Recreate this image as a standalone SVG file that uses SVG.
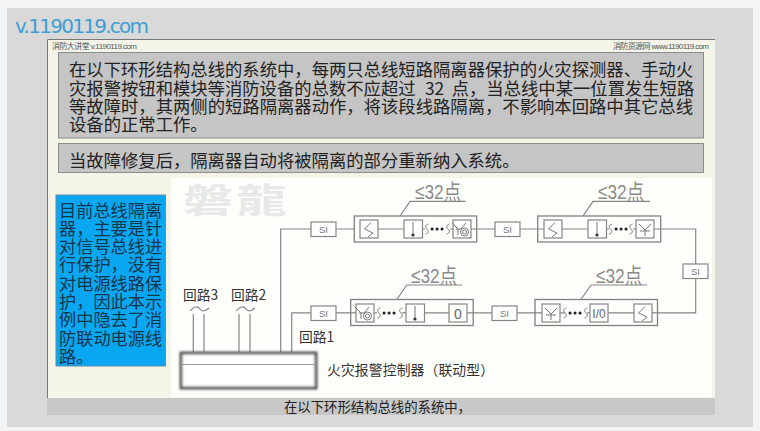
<svg xmlns="http://www.w3.org/2000/svg" width="760" height="431" viewBox="0 0 760 431">
<style>
text{font-family:"Noto Sans CJK SC","Liberation Sans",sans-serif;fill:#222}
.main{font-size:17.33px}
.lab{font-size:13.8px;fill:#333}
.side{font-size:17.2px;fill:#16364a}
.tiny{font-size:8px;fill:#555;font-family:"Liberation Sans","Noto Sans CJK SC",sans-serif}
.w{fill:none;stroke:#858585;stroke-width:1.2}
.box{fill:#fff;stroke:#858585;stroke-width:1.2}
.outer{fill:none;stroke:#808080;stroke-width:1.3}
.sym{fill:none;stroke:#777;stroke-width:1}
.si{font-size:9.5px;fill:#777;text-anchor:middle;font-family:"Liberation Sans",sans-serif}
.lim{font-size:21px;fill:#8a8a8a;font-family:"Liberation Sans","Noto Sans CJK SC",sans-serif}
.panel{fill:#c5c5c5;stroke:#8c8c8c;stroke-width:1}
</style>
<defs>
<filter id="blur" x="-10%" y="-30%" width="120%" height="160%"><feGaussianBlur stdDeviation="1.1"/></filter>
<g id="k-s"><rect class="box" width="18" height="18"/><path class="sym" d="M11 2.500 4.500 9 13 13 8 17"/></g>
<g id="k-det"><rect class="box" width="18.500" height="18"/><path class="sym" d="M9 2V15"/><circle cx="9" cy="15" r="1.600" fill="#333"/></g>
<g id="k-y"><rect class="box" width="18" height="18"/><path class="sym" d="M3 4 9 10 15 4M9 10V16M4 11H14"/></g>
<g id="k-alarm"><rect class="box" width="18" height="18"/><path class="sym" d="M-1 3 5 9M5 9V15M3 9H8L13 3"/><circle class="sym" cx="11.500" cy="12" r="4"/><circle class="sym" cx="11.500" cy="12" r="2"/></g>
<g id="k-si"><rect class="box" width="25" height="14.500"/><text class="si" x="12.500" y="10.700">SI</text></g>
<g id="k-dots"><path class="sym" d="M1.500-5C-2-4-2-2 0 0S2 4-1.500 5"/></g>
</defs>
<rect width="760" height="431" fill="#f3f4f6"/>
<rect x="7" y="8" width="746" height="419" fill="#d9d9d9"/>
<rect x="47" y="39.500" width="668" height="375" fill="#f4f4e8"/>
<path d="M47.500 414V39.500H715" fill="none" stroke="#777" stroke-width="1"/>
<text x="15" y="33" font-size="20" textLength="134" style="fill:#3c9fd4;font-family:'DejaVu Sans',sans-serif">v.1190119.com</text>
<text class="tiny" x="52" y="49" textLength="85">消防大讲堂 v.1190119.com</text>
<text class="tiny" x="613" y="49" textLength="96">消防资源网 www.1190119.com</text>

<g id="panel-1">
<rect class="panel" x="58.500" y="52.500" width="645" height="85.500"/>
<text class="main" x="69" y="76" textLength="624">在以下环形结构总线的系统中，每两只总线短路隔离器保护的火灾探测器、手动火</text>
<text class="main" y="94.500"><tspan x="69">灾报警按钮和模块等消防设备的总数不应超过</tspan><tspan x="425">32</tspan><tspan x="451.700">点，当总线中某一位置发生短路</tspan></text>
<text class="main" x="69" y="112.500" textLength="624">等故障时，其两侧的短路隔离器动作，将该段线路隔离，不影响本回路中其它总线</text>
<text class="main" x="69" y="131">设备的正常工作。</text>
</g>
<g id="panel-2">
<rect class="panel" x="58.500" y="143.500" width="645" height="29"/>
<text class="main" x="69" y="167">当故障修复后，隔离器自动将被隔离的部分重新纳入系统。</text>
</g>

<rect x="171" y="178" width="541" height="219" fill="#fefefb"/>
<text transform="translate(183 213) scale(1.25 .85)" font-size="40" font-weight="700" letter-spacing="3" style="fill:#e8e8e8;font-family:'Noto Sans CJK TC',sans-serif">磐龍</text>

<g id="note">
<rect x="56" y="195" width="109.500" height="171" fill="#09a6f2" stroke="#5a8fb0" stroke-width="1"/>
<text class="side" x="59" y="216.500">目前总线隔离</text>
<text class="side" x="59" y="235">器，主要是针</text>
<text class="side" x="59" y="253">对信号总线进</text>
<text class="side" x="59" y="271">行保护，没有</text>
<text class="side" x="59" y="289.500">对电源线路保</text>
<text class="side" x="59" y="308">护，因此本示</text>
<text class="side" x="59" y="326">例中隐去了消</text>
<text class="side" x="59" y="344.500">防联动电源线</text>
<text class="side" x="59" y="362.500">路。</text>
</g>

<g id="connectors">
<path class="w" d="M280.700 352V229H311M291.700 352V312.800H311"/>
<path class="w" d="M336 229H354M360 229H404M422 229H425M450 229H453M471 229H495M520 229H544M562 229H588M606 229H609M633 229H636M654 229H695.700V264M695.700 278V312.800H652M634 312.800H608M590 312.800H587M565 312.800H559M542 312.800H517M492 312.800H467M449 312.800H424M406 312.800H402M377 312.800H374M356 312.800H336"/>
<path class="w" d="M193.300 352V314M204 352V314M239 352V314M250 352V314"/>
<path class="w" d="M190 311C194 306 198 306 200 309S206 311 209 308M236 311C240 306 244 306 246 309S252 311 255 308"/>
<path class="w" d="M400 216 410 201.300H465.700M396.500 300 406.700 285H462M583 216 593 201.300H650M580.500 300 591 285H647"/>
</g>

<g id="segment-top-1">
<rect class="outer" x="354.300" y="216" width="122.400" height="26"/>
<use href="#k-s" x="360" y="220"/><use href="#k-det" x="404" y="220"/><use href="#k-alarm" x="453" y="220"/>
<use href="#k-dots" x="427" y="229"/><use href="#k-dots" x="448" y="229"/>
<path d="M432 229h.1M437 229h.1M442 229h.1" stroke="#222" stroke-width="3" stroke-linecap="round"/>
<text class="lim" x="415" y="199" textLength="46" lengthAdjust="spacingAndGlyphs">≤32点</text>
</g>
<g id="segment-top-2">
<rect class="outer" x="537.700" y="216" width="123" height="26"/>
<use href="#k-s" x="544" y="220"/><use href="#k-det" x="588" y="220"/><use href="#k-y" x="636" y="220"/>
<use href="#k-dots" x="610.500" y="229"/><use href="#k-dots" x="631" y="229"/>
<path d="M616 229h.1M621 229h.1M626 229h.1" stroke="#222" stroke-width="3" stroke-linecap="round"/>
<text class="lim" x="598" y="199" textLength="46" lengthAdjust="spacingAndGlyphs">≤32点</text>
</g>
<g id="segment-bottom-1">
<rect class="outer" x="350.700" y="299.500" width="122.500" height="26"/>
<use href="#k-alarm" x="356" y="304"/><use href="#k-det" x="406" y="304"/><rect class="box" x="449" y="304" width="18" height="18"/>
<text x="458" y="318.500" text-anchor="middle" font-size="14" style="fill:#666;font-family:'Liberation Sans',sans-serif">0</text>
<use href="#k-dots" x="379" y="313"/><use href="#k-dots" x="401" y="313"/>
<path d="M384 313h.1M389 313h.1M394 313h.1" stroke="#222" stroke-width="3" stroke-linecap="round"/>
<text class="lim" x="411" y="283" textLength="46" lengthAdjust="spacingAndGlyphs">≤32点</text>
</g>
<g id="segment-bottom-2">
<rect class="outer" x="535" y="299.500" width="122.500" height="26"/>
<use href="#k-y" x="542" y="304"/><rect class="box" x="590" y="304" width="18" height="18"/><use href="#k-s" x="634" y="304"/>
<text x="599" y="318" text-anchor="middle" font-size="12" style="fill:#666;font-family:'Liberation Sans',sans-serif">I/0</text>
<use href="#k-dots" x="565" y="313"/><use href="#k-dots" x="586" y="313"/>
<path d="M570 313h.1M575 313h.1M580 313h.1" stroke="#222" stroke-width="3" stroke-linecap="round"/>
<text class="lim" x="596" y="283" textLength="46" lengthAdjust="spacingAndGlyphs">≤32点</text>
</g>

<g id="si-1"><use href="#k-si" x="311" y="222"/></g>
<g id="si-2"><use href="#k-si" x="495" y="222"/></g>
<g id="si-3"><use href="#k-si" x="683" y="264"/></g>
<g id="si-4"><use href="#k-si" x="492" y="306"/></g>
<g id="si-5"><use href="#k-si" x="311" y="306"/></g>

<g id="controller">
<g filter="url(#blur)">
<rect x="181" y="353" width="135" height="35" fill="#fff" stroke="#555" stroke-width="3"/>
</g>
<path d="M181 364.500H316" stroke="#999" stroke-width="1"/>
</g>
<text class="lab" x="183" y="300">回路3</text>
<text class="lab" x="231" y="300">回路2</text>
<text class="lab" x="299" y="342">回路1</text>
<text class="lab" x="327" y="375" textLength="167">火灾报警控制器（联动型）</text>

<g id="caption">
<rect x="47" y="398" width="668" height="17" fill="#c8c8c8"/>
<text x="284" y="412" font-size="13.400" textLength="187">在以下环形结构总线的系统中，</text>
</g>
</svg>
